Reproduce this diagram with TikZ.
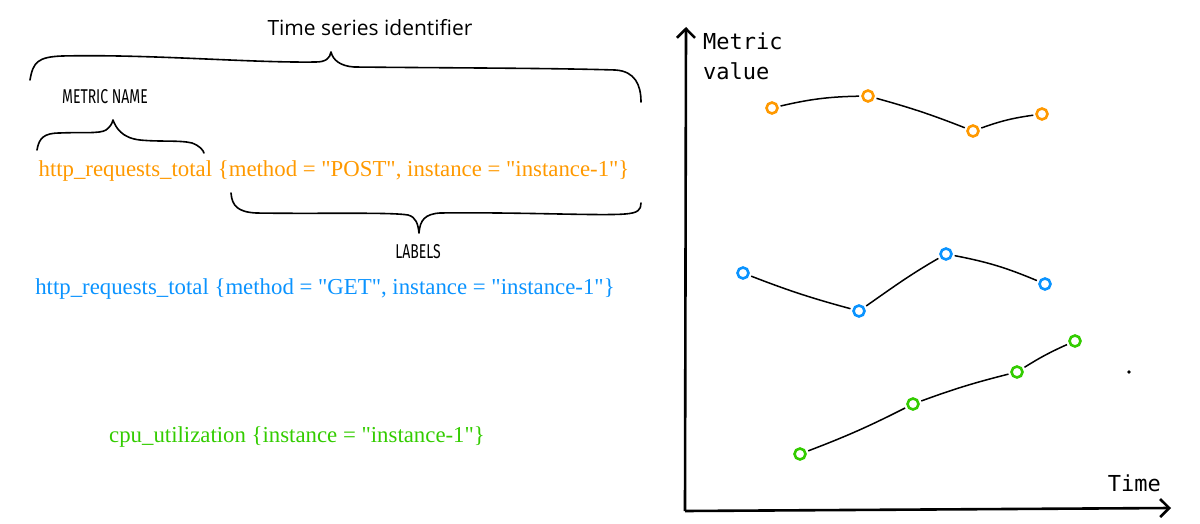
\documentclass[tikz,border=0pt]{standalone}
\usepackage{fontspec}
\usetikzlibrary{arrows.meta}
\setmainfont[Ligatures=TeXOff]{Liberation Serif}
\newfontfamily\headfont{Open Sans}
\newfontfamily\handfont[FakeStretch=0.7]{Fira Sans}
\newfontfamily\axisfont{DejaVu Sans Mono}
\definecolor{promorange}{HTML}{FF9900}
\definecolor{promblue}{HTML}{0A93FF}
\definecolor{promgreen}{HTML}{33CC00}
\begin{document}
\begin{tikzpicture}[x=1pt,y=-1pt]
		\tikzset{series/.style = {font=\fontsize{22.8}{26}\selectfont, inner sep=0}}
		\tikzset{hand/.style = {font=\handfont\fontsize{20}{22}\selectfont, inner sep=0}}
		\tikzset{axistext/.style = {font=\axisfont\fontsize{22}{30}\selectfont, inner sep=0, align=left}}
		\tikzset{brace/.style = {draw, line width=1.6pt, line cap=round, line join=round}}
		\tikzset{axis/.style = {draw, line width=2.6pt, -{Straight Barb[length=9pt,width=18pt,line width=2.6pt]}}}
		\tikzset{point/.style = {shape=circle, draw=#1, line width=2.6pt, minimum size=11pt, inner sep=0}}
		\tikzset{link/.style = {draw, line width=1.5pt, shorten <=2pt, shorten >=2pt}}
		\useasboundingbox (0,0) rectangle (1200,524);
		\node[font=\headfont\fontsize{21}{24}\selectfont, inner sep=0] (tsid) at (370,28) {Time series identifier};
		\node[hand] (mname) at (105,97) {METRIC NAME};
		\node[hand] (lbls) at (418,252) {LABELS};
		\node[series, text=promorange] (post) at (334,171) {http\_requests\_total {\{}method = "POST", instance = "instance-1"{\}}};
		\node[series, text=promblue] (get) at (325,289) {http\_requests\_total {\{}method = "GET", instance = "instance-1"{\}}};
		\node[series, text=promgreen] (cpu) at (297,437) {cpu\_utilization {\{}instance = "instance-1"{\}}};
		\path[brace] (30,80) .. controls (33,62) and (38,57) .. (62,56) .. controls (150,54) and (250,63) .. (316,62) .. controls (326,62) and (330,58) .. (331,52) .. controls (333,60) and (340,66) .. (354,67) .. controls (450,68) and (550,68) .. (615,70) .. controls (635,71) and (641,85) .. (641,102);
		\path[brace] (37,150) .. controls (39,138) and (44,133) .. (60,133) .. controls (80,132) and (100,134) .. (106,130) .. controls (110,127) and (112,124) .. (113,120) .. controls (116,128) and (122,138) .. (140,140) .. controls (160,142) and (180,140) .. (192,143) .. controls (200,146) and (203,150) .. (204,153);
		\path[brace] (231,193) .. controls (232,206) and (238,212) .. (256,213) .. controls (320,214) and (390,212) .. (408,215) .. controls (416,217) and (418,224) .. (419,233) .. controls (420,220) and (425,214) .. (440,213) .. controls (520,212) and (600,216) .. (625,214) .. controls (638,213) and (641,210) .. (641,203);
		\coordinate (origin) at (685,511);
		\coordinate (ytop) at (686,27);
		\coordinate (xend) at (1171,508);
		\path[axis] (origin) -- (ytop);
		\path[axis] (origin) -- (xend);
		\node[axistext, anchor=north west] (mval) at (703,33) {Metric\\value};
		\node[axistext, anchor=south east] (time) at (1161,492) {Time};
		\node[point=promorange] (o1) at (772,108) {};
		\node[point=promorange] (o2) at (868,96) {};
		\node[point=promorange] (o3) at (973,131) {};
		\node[point=promorange] (o4) at (1042,114) {};
		\node[point=promblue] (b1) at (743,273) {};
		\node[point=promblue] (b2) at (859,311) {};
		\node[point=promblue] (b3) at (946,254) {};
		\node[point=promblue] (b4) at (1045,284) {};
		\node[point=promgreen] (g1) at (800,454) {};
		\node[point=promgreen] (g2) at (913,404) {};
		\node[point=promgreen] (g3) at (1017,372) {};
		\node[point=promgreen] (g4) at (1075,341) {};
		\path[link] (o1) edge[bend left=6] (o2);
		\path[link] (o2) edge[bend left=3] (o3);
		\path[link] (o3) edge[bend left=6] (o4);
		\path[link] (b1) edge[bend right=3] (b2);
		\path[link] (b2) edge[out=35, in=-150] (b3);
		\path[link] (b3) edge[bend left=6] (b4);
		\path[link] (g1) edge[bend right=3] (g2);
		\path[link] (g2) edge[bend left=3] (g3);
		\path[link] (g3) edge[bend left=4] (g4);
		\fill (1129,372) circle (1.8);
	\end{tikzpicture}
\end{document}
